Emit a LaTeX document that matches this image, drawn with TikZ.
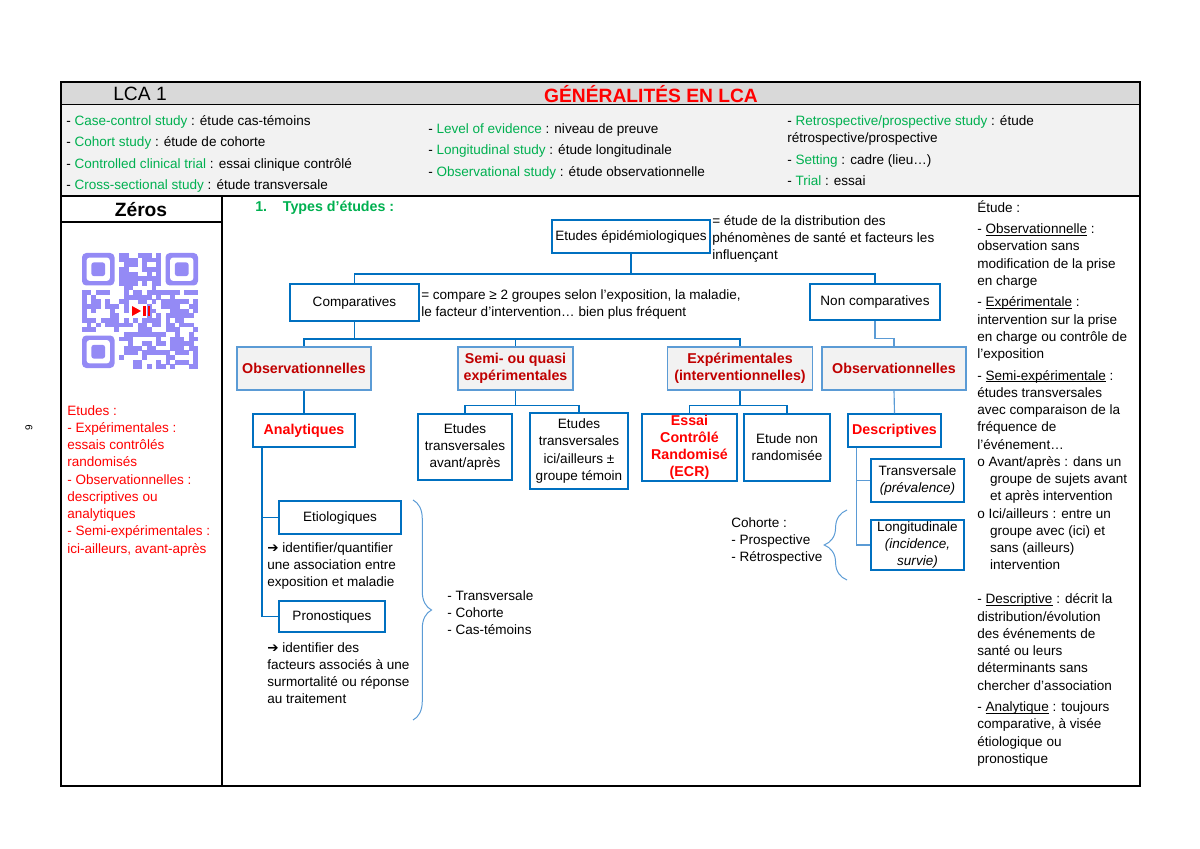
\documentclass[tikz,border=0pt]{standalone}
\usepackage{fontspec}
\setmainfont{Liberation Sans}
\newfontfamily\symfont{DejaVu Sans}
\usepackage{xcolor}
\usetikzlibrary{decorations.pathreplacing}

\definecolor{boxblue}{RGB}{0,112,192}
\definecolor{lineblue}{RGB}{91,155,213}
\definecolor{glossgreen}{RGB}{0,176,80}
\definecolor{headred}{RGB}{255,0,0}
\definecolor{darkred}{RGB}{192,0,0}
\definecolor{headgray}{RGB}{217,217,217}
\definecolor{glossgray}{RGB}{242,242,242}
\definecolor{qrblue}{RGB}{148,138,245}

\def\px{0.7017pt}
\newcommand{\engl}[1]{\textcolor{glossgreen}{#1}}
\newcommand{\uln}[1]{\setbox0\hbox{#1}\rlap{\rule[-1.2pt]{\wd0}{0.5pt}}\box0\relax}

\tikzset{
    box/.style={draw=boxblue,line width=1.3pt,fill=white,align=center,inner sep=1pt,
        font=\fontsize{9.5}{12.1}\selectfont},
    thinbox/.style={box,line width=0.8pt},
    catbox/.style={draw=lineblue,line width=0.8pt,fill=glossgray,align=center,inner sep=1pt,
        text=darkred,font=\bfseries\fontsize{10}{12}\selectfont},
    redbox/.style={box,text=headred,font=\bfseries\fontsize{10}{12}\selectfont},
    link/.style={draw=boxblue,line width=1.3pt},
    thinlink/.style={draw=lineblue,line width=0.8pt},
    txt/.style={anchor=north west,align=left,inner sep=0pt,font=\fontsize{9.5}{12.1}\selectfont,
        execute at begin node={\strut}},
    curly/.style={draw=lineblue,line width=0.7pt,decorate},
}

\begin{document}
\begin{tikzpicture}[x=\px,y=-\px]
    \useasboundingbox (0,0) rectangle (1200,849);

    % table frame
    \fill[headgray] (61,82) rectangle (1140,104);
    \fill[glossgray] (61,104) rectangle (1140,196);
    \draw[line width=0.6pt] (61,104) -- (1140,104);
    \draw[line width=1.4pt] (61,196) -- (1140,196);
    \draw[line width=0.8pt] (222,196) -- (222,786);
    \draw[line width=0.8pt] (61,222) -- (222,222);
    \draw[line width=1.4pt] (61,82) rectangle (1140,786);

    \node[rotate=90,font=\fontsize{7}{8}\selectfont] (page) at (29,428) {9};

    \node[font=\fontsize{13.5}{16}\selectfont] (lca) at (140,94) {LCA 1};
    \node[text=headred,font=\bfseries\fontsize{13.5}{16}\selectfont] (titre) at (651,94) {GÉNÉRALITÉS EN LCA};

    % glossary
    \node[txt] (gloss1) at (66,115) {- \engl{Case-control study} : étude cas-témoins\\[3pt]
        - \engl{Cohort study} : étude de cohorte\\[3pt]
        - \engl{Controlled clinical trial} : essai clinique contrôlé\\[3pt]
        - \engl{Cross-sectional study} : étude transversale};
    \node[txt] (gloss2) at (428,123) {- \engl{Level of evidence} : niveau de preuve\\[3pt]
        - \engl{Longitudinal study} : étude longitudinale\\[3pt]
        - \engl{Observational study} : étude observationnelle};
    \node[txt] (gloss3) at (787,115) {- \engl{Retrospective/prospective study} : étude\\
        rétrospective/prospective\\[3pt]
        - \engl{Setting} : cadre (lieu…)\\[3pt]
        - \engl{Trial} : essai};

    % left column
    \node[font=\bfseries\fontsize{13.5}{16}\selectfont] (zeros) at (141,210) {Zéros};

    \pgfmathsetseed{4242}
    \foreach \i in {0,...,24}{
        \foreach \j in {0,...,24}{
            \pgfmathtruncatemacro{\skipcell}{or(or(and(\i<8,\j<8),and(\i>16,\j<8)),or(and(\i<8,\j>16),and(and(\i>10,\i<14),and(\j>10,\j<14))))}
            \pgfmathtruncatemacro{\oncell}{rnd<0.62}
            \ifnum\skipcell=0 \ifnum\oncell=1
                \fill[qrblue] (82+\i*4.64,253+\j*4.64) rectangle ++(4.8,4.8);
            \fi\fi
        }
    }
    \foreach \fx/\fy in {82/253,165.5/253,82/335.5}{
        \fill[qrblue,rounded corners=3pt] (\fx,\fy) rectangle ++(32.5,32.5);
        \fill[white,rounded corners=2pt] (\fx+4.64,\fy+4.64) rectangle ++(23.2,23.2);
        \fill[qrblue,rounded corners=2pt] (\fx+9.28,\fy+9.28) rectangle ++(13.9,13.9);
    }
    \fill[headred] (132,306) -- (132,316) -- (141,311) -- cycle;
    \fill[headred] (143,306) rectangle (145.5,316);
    \fill[headred] (147.5,306) rectangle (150,316);

    \node[txt,text=headred] (zerosTxt) at (67,405) {Etudes :\\
        - Expérimentales :\\
        essais contrôlés\\
        randomisés\\
        - Observationnelles :\\
        descriptives ou\\
        analytiques\\
        - Semi-expérimentales :\\
        ici-ailleurs, avant-après};

    % diagram
    \node[anchor=base west,inner sep=0pt,text=glossgreen,font=\bfseries\fontsize{10}{12}\selectfont] (types) at (255,212) {1.\hspace{11pt}Types d’études :};

    \node[box,minimum width=158*\px,minimum height=33*\px] (epi) at (631,236.5) {Etudes épidémiologiques};
    \node[txt] (epiDef) at (712,215) {= étude de la distribution des\\
        phénomènes de santé et facteurs les\\
        influençant};

    \node[box,minimum width=129*\px,minimum height=37*\px] (comp) at (354.5,302.5) {Comparatives};
    \node[box,minimum width=130*\px,minimum height=36*\px] (noncomp) at (875,302) {Non comparatives};
    \node[txt] (compDef) at (421,289) {= compare ≥ 2 groupes selon l’exposition, la maladie,\\
        le facteur d’intervention… bien plus fréquent};

    \node[catbox,minimum width=134*\px,minimum height=43*\px] (obsL) at (304,368.5) {Observationnelles};
    \node[catbox,minimum width=115*\px,minimum height=43*\px] (semi) at (515.5,368.5) {Semi- ou quasi\\expérimentales};
    \node[catbox,minimum width=145*\px,minimum height=43*\px] (exper) at (740,368.5) {Expérimentales\\(interventionnelles)};
    \node[catbox,minimum width=144*\px,minimum height=43*\px] (obsR) at (894,368.5) {Observationnelles};

    \node[redbox,minimum width=102*\px,minimum height=33*\px] (analyt) at (304,430.5) {Analytiques};
    \node[box,minimum width=94*\px,minimum height=66*\px] (trAv) at (465,447) {Etudes\\transversales\\avant/après};
    \node[box,minimum width=98*\px,minimum height=76*\px] (trIci) at (579,451) {Etudes\\transversales\\ici/ailleurs ±\\groupe témoin};
    \node[redbox,minimum width=95*\px,minimum height=67*\px] (ecr) at (689.5,447.5) {Essai\\Contrôlé\\Randomisé\\(ECR)};
    \node[box,minimum width=86*\px,minimum height=67*\px] (nonrand) at (787,447.5) {Etude non\\randomisée};
    \node[redbox,line width=1pt,minimum width=93*\px,minimum height=33*\px] (descr) at (894.5,430.5) {Descriptives};
    \node[thinbox,minimum width=93*\px,minimum height=43*\px] (transv) at (917.5,480.5) {Transversale\\\textit{(prévalence)}};
    \node[thinbox,minimum width=93*\px,minimum height=50*\px] (longit) at (917.5,545) {Longitudinale\\\textit{(incidence,}\\\textit{survie)}};

    \node[box,minimum width=122*\px,minimum height=33*\px] (etio) at (340,517.5) {Etiologiques};
    \node[box,minimum width=106*\px,minimum height=31*\px] (prono) at (332,616.5) {Pronostiques};
    \node[txt] (etioTxt) at (267,542) {{\symfont ➔} identifier/quantifier\\
        une association entre\\
        exposition et maladie};
    \node[txt] (pronoTxt) at (267,642) {{\symfont ➔} identifier des\\
        facteurs associés à une\\
        surmortalité ou réponse\\
        au traitement};

    \node[txt] (analytList) at (447,590) {- Transversale\\- Cohorte\\- Cas-témoins};
    \node[txt] (cohorte) at (731,517) {Cohorte :\\- Prospective\\- Rétrospective};

    % connectors
    \draw[link] (epi.south) -- ++(0,20) -| (comp.north);
    \draw[link] (epi.south) -- ++(0,20) -| (noncomp.north);
    \draw[link] (comp.south) -- ++(0,17) -| (obsL.north);
    \draw[link] (comp.south) -- ++(0,17) -| (semi.north);
    \draw[link] (comp.south) -- ++(0,17) -| (exper.north);
    \draw[thinlink] (noncomp.south) -- ++(0,18) -| (obsR.north);
    \draw[link] (obsL.south) -- (analyt.north);
    \draw[link] (semi.south) -- ++(0,15) -| (trAv.north);
    \draw[link] (semi.south) -- ++(0,15) -| (trIci.north);
    \draw[link] (exper.south) -- ++(0,15) -| (ecr.north);
    \draw[link] (exper.south) -- ++(0,15) -| (nonrand.north);
    \draw[thinlink] (obsR.south) -- (descr.north);
    \draw[link] (analyt.south west) ++(10,0) |- (etio.west);
    \draw[link] (analyt.south west) ++(10,0) |- (prono.west);
    \draw[thinlink] (descr.south west) ++(9,0) |- (transv.west);
    \draw[thinlink] (descr.south west) ++(9,0) |- (longit.west);

    \coordinate (brA) at (413,500);
    \coordinate (brB) at (413,720);
    \draw[curly,decoration={brace,amplitude=13pt}] (brA) -- (brB);
    \coordinate (brC) at (847,580);
    \coordinate (brD) at (847,510);
    \draw[curly,decoration={brace,amplitude=16pt}] (brC) -- (brD);

    % right column
    \node[txt] (defs) at (977,200) {Étude :\\[3pt]
        - \uln{Observationnelle} :\\
        observation sans\\
        modification de la prise\\
        en charge\\[3pt]
        - \uln{Expérimentale} :\\
        intervention sur la prise\\
        en charge ou contrôle de\\
        l’exposition\\[3pt]
        - \uln{Semi-expérimentale} :\\
        études transversales\\
        avec comparaison de la\\
        fréquence de\\
        l’événement…\\
        o Avant/après : dans un\\
        \hspace*{9pt}groupe de sujets avant\\
        \hspace*{9pt}et après intervention\\
        o Ici/ailleurs : entre un\\
        \hspace*{9pt}groupe avec (ici) et\\
        \hspace*{9pt}sans (ailleurs)\\
        \hspace*{9pt}intervention\\[11.8pt]
        - \uln{Descriptive} : décrit la\\
        distribution/évolution\\
        des événements de\\
        santé ou leurs\\
        déterminants sans\\
        chercher d’association\\[3pt]
        - \uln{Analytique} : toujours\\
        comparative, à visée\\
        étiologique ou\\
        pronostique};
\end{tikzpicture}
\end{document}
